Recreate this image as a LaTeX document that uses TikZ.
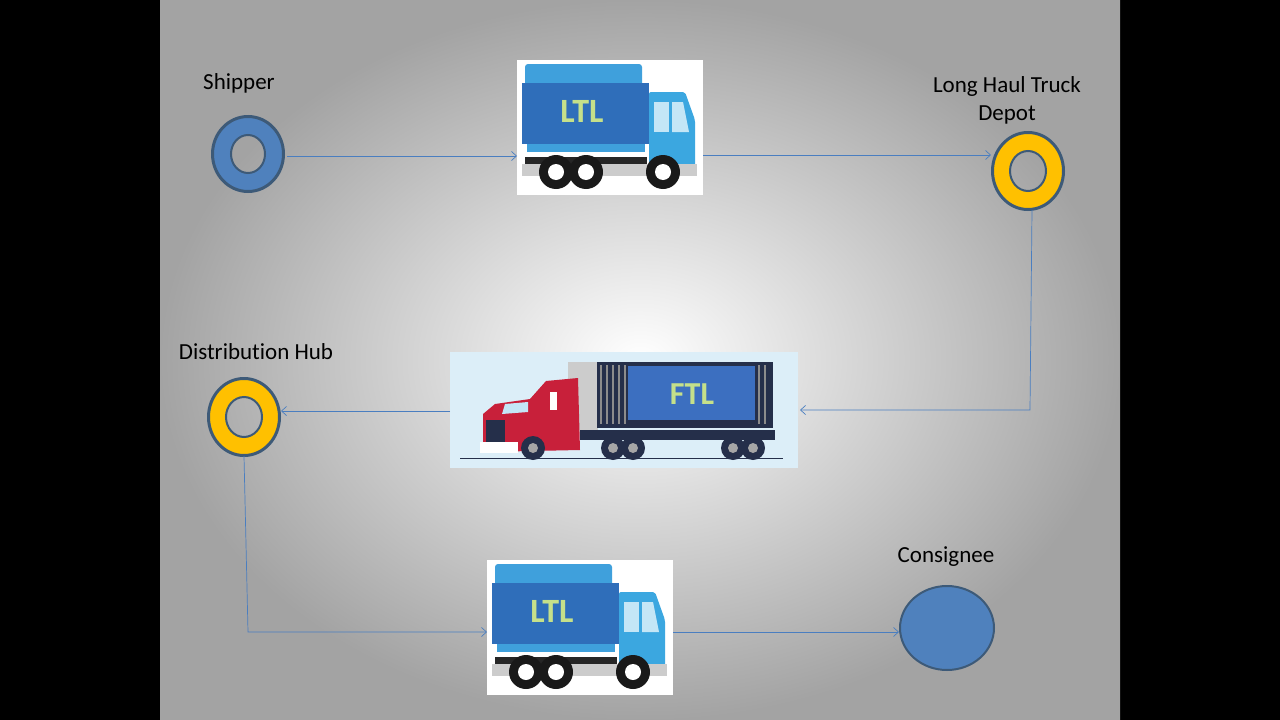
\documentclass[tikz,border=0pt]{standalone}
\usepackage{fontspec}
\setmainfont[Ligatures=NoCommon]{Carlito}
\usetikzlibrary{arrows.meta,shapes.geometric}
\definecolor{ringblue}{HTML}{4F81BD}
\definecolor{ringedge}{HTML}{3D5A78}
\definecolor{ringyel}{HTML}{FFC000}
\definecolor{arr}{HTML}{4A7EC0}
\definecolor{ltltop}{HTML}{3FA0DC}
\definecolor{ltlbox}{HTML}{2F6EBA}
\definecolor{ltlcab}{HTML}{3BA7E0}
\definecolor{ltlwin}{HTML}{C4E6F6}
\definecolor{ltltxt}{HTML}{C5E08A}
\definecolor{navy}{HTML}{252F4A}
\definecolor{panel}{HTML}{3C6FC0}
\definecolor{cabred}{HTML}{C8203A}
\definecolor{ftlbg}{HTML}{DCEEF8}
\tikzset{
  lbl/.style={font=\fontsize{23}{28}\selectfont, align=center},
  flow/.style={draw=arr, line width=0.7pt, -{Straight Barb[length=5pt,width=9pt]}},
  ring/.style={draw=ringedge, line width=2pt, ellipse, inner sep=0pt},
  ltl/.pic={
    \fill[white] (0,0) rectangle (186,135);
    \fill[ltltop, rounded corners=3pt] (8,4) rectangle (125,30);
    \fill[ltlbox] (5,23) rectangle (132,84);
    \node[text=ltltxt, font=\bfseries\fontsize{34}{36}\selectfont] at (65,51) {LTL};
    \fill[ltltop] (10,84) rectangle (128,92);
    \fill[ltlcab, rounded corners=2pt] (132,32) -- (168,32) -- (178,60) -- (178,108) -- (132,108) -- cycle;
    \fill[ltlwin] (137,42) rectangle (152,72);
    \fill[ltlwin] (155,42) -- (166,42) -- (172,72) -- (155,72) -- cycle;
    \fill[black!85] (8,97) rectangle (130,107);
    \fill[black!20] (5,104) rectangle (180,116);
    \foreach \cx in {39,69,146}{
      \fill[black!90] (\cx,112) circle (17);
      \fill[white] (\cx,112) circle (8);}
  },
  ftl/.pic={
    \fill[ftlbg] (0,0) rectangle (348,116);
    \fill[black!20] (118,10) rectangle (148,80);
    \fill[navy] (147,10) rectangle (323,76);
    \foreach \sx in {150,156,...,176,308,314}{\fill[black!45] (\sx,13) rectangle (\sx+2,72);}
    \fill[panel] (178,14) rectangle (305,68);
    \node[text=ltltxt, font=\bfseries\fontsize{32}{34}\selectfont] at (242,42) {FTL};
    \fill[navy] (130,78) rectangle (325,88);
    \fill[cabred] (33,62) -- (45,52) -- (80,47) -- (96,29) -- (128,26) -- (130,98) -- (33,100) -- cycle;
    \fill[ltlwin] (55,52) -- (78,50) -- (78,60) -- (52,62) -- cycle;
    \fill[white] (100,40) rectangle (107,58);
    \fill[navy] (36,68) rectangle (55,92);
    \fill[white] (30,90) rectangle (68,101);
    \foreach \cx in {83,163,183,283,303}{
      \fill[navy] (\cx,96) circle (12);
      \fill[black!35] (\cx,96) circle (5);}
    \draw[navy, line width=1pt] (10,106) -- (333,106);
  }
}
\begin{document}
\begin{tikzpicture}[x=1pt,y=-1pt]
\fill[black] (0,0) rectangle (1280,720);
\shade[inner color=white, outer color=black!36] (160,0) rectangle (1120,720);
\useasboundingbox (0,0) rectangle (1280,720);

\node[lbl] (tship) at (239,83) {Shipper};
\node[ring, minimum width=72pt, minimum height=76pt] (ship) at (248,154) {};
\fill[ringblue, even odd rule] (248,154) ellipse (35 and 37) (248,154) ellipse (17 and 19);
\draw[ringedge, line width=2pt] (248,154) ellipse (35 and 37) (248,154) ellipse (17 and 19);

\pic at (517,60) {ltl};
\coordinate (l1w) at (517,156); \coordinate (l1e) at (703,155);

\node[lbl] (tdep) at (1007,100) {Long Haul Truck\\Depot};
\node[ring, minimum width=72pt, minimum height=78pt] (dep) at (1028,171) {};
\fill[ringyel, even odd rule] (1028,171) ellipse (35 and 38) (1028,171) ellipse (18 and 20);
\draw[ringedge, line width=2pt] (1028,171) ellipse (35 and 38) (1028,171) ellipse (18 and 20);

\pic at (450,352) {ftl};
\coordinate (fe) at (800,410); \coordinate (fw) at (450,411);

\node[lbl] (thub) at (256,352) {Distribution Hub};
\node[ring, minimum width=72pt, minimum height=78pt] (hub) at (244,417) {};
\fill[ringyel, even odd rule] (244,417) ellipse (35 and 38) (244,417) ellipse (18 and 20);
\draw[ringedge, line width=2pt] (244,417) ellipse (35 and 38) (244,417) ellipse (18 and 20);

\pic at (487,560) {ltl};
\coordinate (l2w) at (487,632); \coordinate (l2e) at (673,632);

\node[lbl] (tcon) at (946,557) {Consignee};
\node[ring, fill=ringblue, minimum width=94pt, minimum height=84pt] (con) at (947,628) {};

\draw[flow] (287,156) -- (l1w);
\draw[flow] (l1e) -- (l1e -| dep.west);
\draw[flow] (1032,210) -- (1030,410) -- (fe);
\draw[flow] (fw) -- (fw -| hub.east);
\draw[flow] (244,456) -- (248,632) -- (l2w);
\draw[flow] (l2e) -- (l2e -| con.west);
\end{tikzpicture}
\end{document}
